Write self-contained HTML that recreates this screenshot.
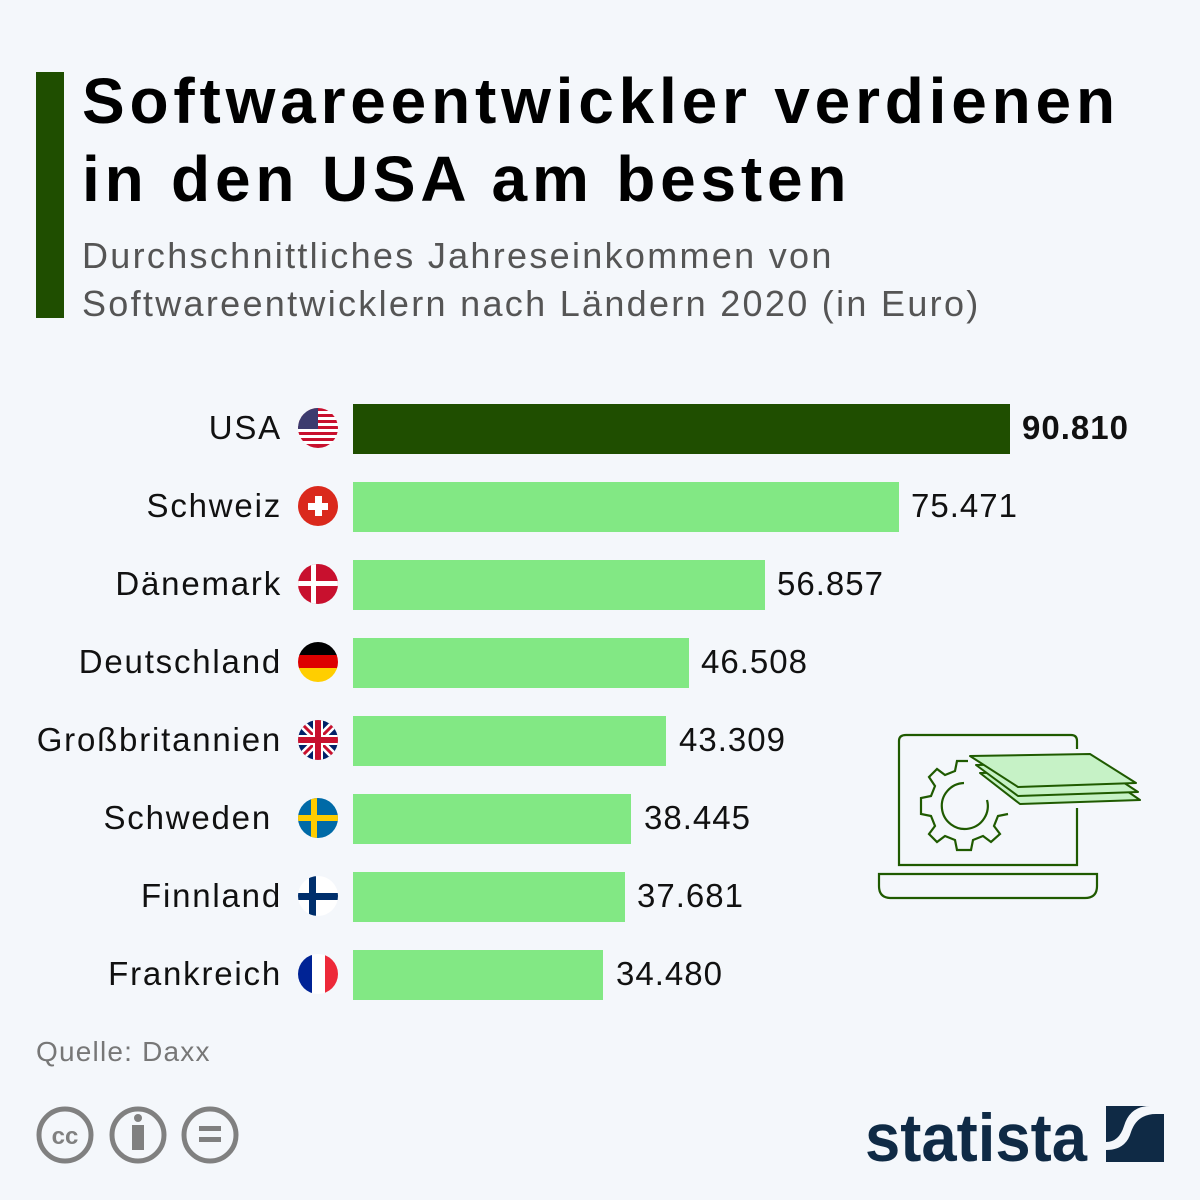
<!DOCTYPE html><html><head><meta charset="utf-8"><style>
body{margin:0;width:1200px;height:1200px;background:#f4f7fb;font-family:"Liberation Sans",sans-serif;position:relative;overflow:hidden}
.t{position:absolute;left:82px;top:62px;font-size:64px;font-weight:bold;line-height:78px;color:#000;letter-spacing:4.8px;white-space:nowrap}
.s{position:absolute;left:82px;top:232px;font-size:36px;line-height:48px;color:#555;letter-spacing:2.3px;white-space:nowrap}
.lab{position:absolute;right:918px;font-size:33px;color:#111;height:50px;line-height:50px;letter-spacing:1.8px;white-space:nowrap}
.bar{position:absolute;left:353px;height:50px;background:#82e884}
.val{position:absolute;font-size:33px;color:#111;height:50px;line-height:50px;letter-spacing:1px}
</style></head><body>
<div style="position:absolute;left:36px;top:72px;width:28px;height:246px;background:#1f4e00"></div>
<div class="t">Softwareentwickler verdienen<br>in den USA am besten</div>
<div class="s">Durchschnittliches Jahreseinkommen von<br>Softwareentwicklern nach Ländern 2020 (in Euro)</div>

<div class="lab" style="top:403px">USA</div><div class="bar" style="top:404px;width:657px;background:#1f4e00"></div><div class="val" style="top:403px;left:1022px;font-weight:bold">90.810</div>
<div class="lab" style="top:481px">Schweiz</div><div class="bar" style="top:482px;width:546px"></div><div class="val" style="top:481px;left:911px">75.471</div>
<div class="lab" style="top:559px">Dänemark</div><div class="bar" style="top:560px;width:412px"></div><div class="val" style="top:559px;left:777px">56.857</div>
<div class="lab" style="top:637px">Deutschland</div><div class="bar" style="top:638px;width:336px"></div><div class="val" style="top:637px;left:701px">46.508</div>
<div class="lab" style="top:715px">Großbritannien</div><div class="bar" style="top:716px;width:313px"></div><div class="val" style="top:715px;left:679px">43.309</div>
<div class="lab" style="top:793px;right:928px">Schweden</div><div class="bar" style="top:794px;width:278px"></div><div class="val" style="top:793px;left:644px">38.445</div>
<div class="lab" style="top:871px">Finnland</div><div class="bar" style="top:872px;width:272px"></div><div class="val" style="top:871px;left:637px">37.681</div>
<div class="lab" style="top:949px">Frankreich</div><div class="bar" style="top:950px;width:250px"></div><div class="val" style="top:949px;left:616px">34.480</div>

<svg style="position:absolute;left:0;top:0" width="1200" height="1200">
<defs>
<clipPath id="c1"><circle cx="318" cy="428" r="20"/></clipPath>
<clipPath id="c2"><circle cx="318" cy="506" r="20"/></clipPath>
<clipPath id="c3"><circle cx="318" cy="584" r="20"/></clipPath>
<clipPath id="c4"><circle cx="318" cy="662" r="20"/></clipPath>
<clipPath id="c5"><circle cx="318" cy="740" r="20"/></clipPath>
<clipPath id="c6"><circle cx="318" cy="818" r="20"/></clipPath>
<clipPath id="c7"><circle cx="318" cy="896" r="20"/></clipPath>
<clipPath id="c8"><circle cx="318" cy="974" r="20"/></clipPath>
</defs>
<g clip-path="url(#c1)"><rect x="298" y="408" width="40" height="40" fill="#fff"/>
<g fill="#c8102e"><rect x="298" y="408" width="40" height="3"/><rect x="298" y="414" width="40" height="3"/><rect x="298" y="420" width="40" height="3"/><rect x="298" y="426" width="40" height="3"/><rect x="298" y="432" width="40" height="3"/><rect x="298" y="438" width="40" height="3"/><rect x="298" y="444" width="40" height="4"/></g>
<rect x="298" y="408" width="20" height="21" fill="#3c3b6e"/></g>
<g clip-path="url(#c2)"><rect x="298" y="486" width="40" height="40" fill="#da291c"/><rect x="315" y="496" width="7" height="20" fill="#fff"/><rect x="308" y="503" width="20" height="7" fill="#fff"/></g>
<g clip-path="url(#c3)"><rect x="298" y="564" width="40" height="40" fill="#c8102e"/><rect x="311" y="564" width="5" height="40" fill="#fff"/><rect x="298" y="581" width="40" height="5" fill="#fff"/></g>
<g clip-path="url(#c4)"><rect x="298" y="642" width="40" height="14" fill="#000"/><rect x="298" y="655" width="40" height="14" fill="#dd0000"/><rect x="298" y="668" width="40" height="14" fill="#ffce00"/></g>
<g clip-path="url(#c5)"><rect x="298" y="720" width="40" height="40" fill="#012169"/><path d="M298 720L338 760M338 720L298 760" stroke="#fff" stroke-width="8"/><path d="M298 720L338 760M338 720L298 760" stroke="#c8102e" stroke-width="3"/><rect x="298" y="735" width="40" height="10" fill="#fff"/><rect x="313" y="720" width="10" height="40" fill="#fff"/><rect x="298" y="737" width="40" height="6" fill="#c8102e"/><rect x="315" y="720" width="6" height="40" fill="#c8102e"/></g>
<g clip-path="url(#c6)"><rect x="298" y="798" width="40" height="40" fill="#006aa7"/><rect x="311" y="798" width="6" height="40" fill="#fecc00"/><rect x="298" y="815" width="40" height="6" fill="#fecc00"/></g>
<g clip-path="url(#c7)"><rect x="298" y="876" width="40" height="40" fill="#fff"/><rect x="309" y="876" width="7" height="40" fill="#002f6c"/><rect x="298" y="893" width="40" height="7" fill="#002f6c"/></g>
<g clip-path="url(#c8)"><rect x="298" y="954" width="14" height="40" fill="#002395"/><rect x="312" y="954" width="13" height="40" fill="#fff"/><rect x="325" y="954" width="14" height="40" fill="#ed2939"/></g>
<g fill="none" stroke="#1f5a00" stroke-width="2.2">
<path d="M1077 749V741Q1077 735 1071 735H906Q899 735 899 741V865H1077V808"/>
<path d="M879 874H1097V886Q1097 898 1085 898H891Q879 898 879 886Z"/>
<path d="M987 800A23 23 0 1 1 964 783"/>
<path d="M968 761L957 761L955 771L945 775L937 769L929 777L935 786L931 796L921 798V814L931 816L935 826L929 834L937 842L945 836L955 840L957 850H971L973 840L983 836L991 842L1000 834L994 826L998 816L1008 814"/>
</g>
<g stroke="#1f5a00" stroke-width="2" stroke-linejoin="round" fill="#c6f2c6">
<path d="M980 773L1098 771L1140 800L1020 804Z"/>
<path d="M976 765L1094 763L1138 792L1018 796Z"/>
<path d="M970 756L1090 754L1136 783L1018 787Z"/>
</g>
<g fill="none" stroke="#808080" stroke-width="5">
<circle cx="65" cy="1135" r="26"/><circle cx="138" cy="1135" r="26"/><circle cx="210" cy="1135" r="26"/></g>
<text x="65" y="1144" font-family="Liberation Sans" font-weight="bold" font-size="24" fill="#808080" text-anchor="middle">cc</text>
<circle cx="138" cy="1118" r="4" fill="#808080"/><rect x="132" y="1125" width="12" height="25" fill="#808080"/>
<rect x="199" y="1126" width="22" height="5" fill="#808080"/><rect x="199" y="1137" width="22" height="5" fill="#808080"/>
<text x="865" y="1161" font-family="Liberation Sans" font-weight="bold" font-size="68" fill="#0f2a45" textLength="222" lengthAdjust="spacingAndGlyphs">statista</text>
<rect x="1106" y="1106" width="58" height="56" fill="#0f2a45"/>
<path d="M1106 1150Q1126 1150 1131 1132Q1137 1114 1156 1114H1164V1106H1150Q1130 1106 1124 1126Q1119 1142 1106 1142Z" fill="#f4f7fb"/>
</svg>
<div style="position:absolute;left:36px;top:1036px;font-size:28px;color:#777;letter-spacing:1.2px">Quelle: Daxx</div>
</body></html>
